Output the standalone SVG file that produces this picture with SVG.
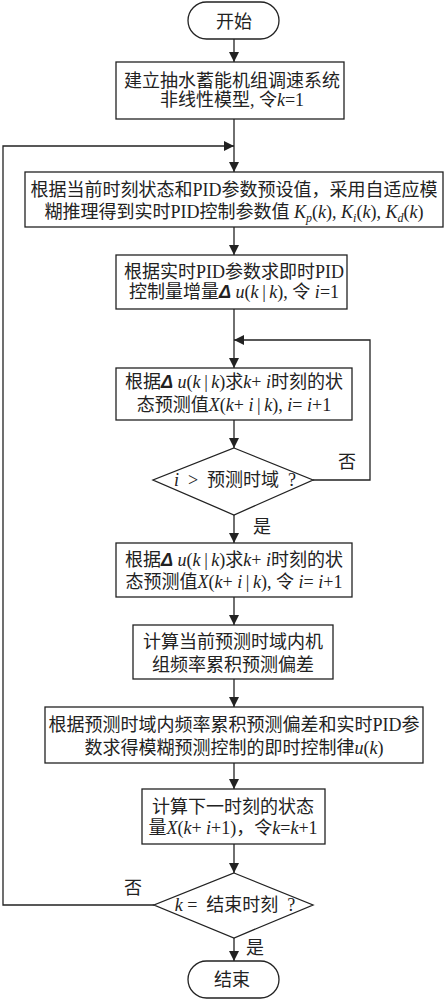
<svg xmlns="http://www.w3.org/2000/svg" width="444" height="1000" viewBox="0 0 444 1000">
<defs>
<style>
.box{fill:#fff;stroke:#222;stroke-width:1.3}
.ln{fill:none;stroke:#222;stroke-width:1.3}
text{font-family:"Liberation Serif","Noto Sans CJK SC",serif;font-size:18px;fill:#222;text-anchor:middle}
.v{font-style:italic}
.d{font-weight:bold;font-style:italic;font-family:"Liberation Sans","Noto Sans CJK SC",sans-serif}
.s{font-size:12px;font-style:italic}
</style>
<marker id="ah" viewBox="0 0 10 10" refX="10" refY="5" markerWidth="10" markerHeight="10" markerUnits="userSpaceOnUse" orient="auto">
<path d="M0,0 L10,5 L0,10 Z" fill="#222"/>
</marker>
</defs>
<rect width="444" height="1000" fill="#fff"/>
<g id="connectors">
<line class="ln" x1="234" y1="39" x2="234" y2="62" marker-end="url(#ah)"/>
<line class="ln" x1="234" y1="119" x2="234" y2="172" marker-end="url(#ah)"/>
<polyline class="ln" points="154,905 3,905 3,146 234,146" marker-end="url(#ah)"/>
<line class="ln" x1="234" y1="227" x2="234" y2="255" marker-end="url(#ah)"/>
<line class="ln" x1="234" y1="309" x2="234" y2="368" marker-end="url(#ah)"/>
<polyline class="ln" points="313,480 370,480 370,340 234,340" marker-end="url(#ah)"/>
<line class="ln" x1="234" y1="420" x2="234" y2="448" marker-end="url(#ah)"/>
<line class="ln" x1="234" y1="515" x2="234" y2="543" marker-end="url(#ah)"/>
<line class="ln" x1="234" y1="597" x2="234" y2="625" marker-end="url(#ah)"/>
<line class="ln" x1="234" y1="679" x2="234" y2="707" marker-end="url(#ah)"/>
<line class="ln" x1="234" y1="763" x2="234" y2="789" marker-end="url(#ah)"/>
<line class="ln" x1="234" y1="844" x2="234" y2="873" marker-end="url(#ah)"/>
<line class="ln" x1="234" y1="938" x2="234" y2="961" marker-end="url(#ah)"/>
<text x="347" y="468">否</text>
<text x="262" y="533">是</text>
<text x="133" y="894">否</text>
<text x="255" y="954">是</text>
</g>
<g id="start">
<rect class="box" x="188" y="2" width="91" height="37" rx="18.5"/>
<text x="234" y="28">开始</text>
</g>
<g id="init">
<rect class="box" x="116" y="62" width="228" height="57"/>
<text x="232" y="87">建立抽水蓄能机组调速系统</text>
<text x="232" y="106">非线性模型, 令<tspan class="v">k</tspan>=1</text>
</g>
<g id="fuzzy">
<rect class="box" x="25" y="172" width="418" height="55"/>
<text x="234" y="196">根据当前时刻状态和PID参数预设值，采用自适应模</text>
<text x="234" y="218">糊推理得到实时PID控制参数值  <tspan class="v">K</tspan><tspan class="s" dy="4">p</tspan><tspan dy="-4">(</tspan><tspan class="v">k</tspan>), <tspan class="v">K</tspan><tspan class="s" dy="4">i</tspan><tspan dy="-4">(</tspan><tspan class="v">k</tspan>), <tspan class="v">K</tspan><tspan class="s" dy="4">d</tspan><tspan dy="-4">(</tspan><tspan class="v">k</tspan>)</text>
</g>
<g id="pid">
<rect class="box" x="116" y="255" width="231" height="54"/>
<text x="234" y="278">根据实时PID参数求即时PID</text>
<text x="234" y="298">控制量增量<tspan class="d">Δ</tspan> <tspan class="v">u</tspan>(<tspan class="v">k</tspan>&#8201;|&#8201;<tspan class="v">k</tspan>), 令 <tspan class="v">i</tspan>=1</text>
</g>
<g id="predict1">
<rect class="box" x="116" y="368" width="236" height="52"/>
<text x="234" y="388">根据<tspan class="d">Δ</tspan> <tspan class="v">u</tspan>(<tspan class="v">k</tspan>&#8201;|&#8201;<tspan class="v">k</tspan>)求<tspan class="v">k</tspan>+ <tspan class="v">i</tspan>时刻的状</text>
<text x="234" y="411">态预测值<tspan class="v">X</tspan>(<tspan class="v">k</tspan>+ <tspan class="v">i</tspan>&#8201;|&#8201;<tspan class="v">k</tspan>), <tspan class="v">i</tspan>= <tspan class="v">i</tspan>+1</text>
</g>
<g id="check1">
<polygon class="box" points="234,448 313,480 234,515 153,480"/>
<text x="235" y="486"><tspan class="v">i</tspan>&#160;&#160;&gt;&#160;&#160;预测时域&#160;&#160;?</text>
</g>
<g id="predict2">
<rect class="box" x="116" y="543" width="236" height="54"/>
<text x="234" y="566">根据<tspan class="d">Δ</tspan> <tspan class="v">u</tspan>(<tspan class="v">k</tspan>&#8201;|&#8201;<tspan class="v">k</tspan>)求<tspan class="v">k</tspan>+ <tspan class="v">i</tspan>时刻的状</text>
<text x="234" y="588">态预测值<tspan class="v">X</tspan>(<tspan class="v">k</tspan>+ <tspan class="v">i</tspan>&#8201;|&#8201;<tspan class="v">k</tspan>), 令 <tspan class="v">i</tspan>= <tspan class="v">i</tspan>+1</text>
</g>
<g id="deviation">
<rect class="box" x="133" y="625" width="200" height="54"/>
<text x="233" y="648">计算当前预测时域内机</text>
<text x="233" y="671">组频率累积预测偏差</text>
</g>
<g id="law">
<rect class="box" x="45" y="707" width="378" height="56"/>
<text x="234" y="731">根据预测时域内频率累积预测偏差和实时PID参</text>
<text x="234" y="754">数求得模糊预测控制的即时控制律<tspan class="v">u</tspan>(<tspan class="v">k</tspan>)</text>
</g>
<g id="next">
<rect class="box" x="142" y="789" width="183" height="55"/>
<text x="233" y="813">计算下一时刻的状态</text>
<text x="233" y="834">量<tspan class="v">X</tspan>(<tspan class="v">k</tspan>+ <tspan class="v">i</tspan>+1)，令<tspan class="v">k</tspan>=<tspan class="v">k</tspan>+1</text>
</g>
<g id="check2">
<polygon class="box" points="234,873 313,905 234,938 154,905"/>
<text x="235" y="911"><tspan class="v">k</tspan>&#160;=&#160;&#160;结束时刻&#160;&#160;?</text>
</g>
<g id="end">
<rect class="box" x="188" y="961" width="91" height="37" rx="18.5"/>
<text x="232" y="986">结束</text>
</g>
</svg>
